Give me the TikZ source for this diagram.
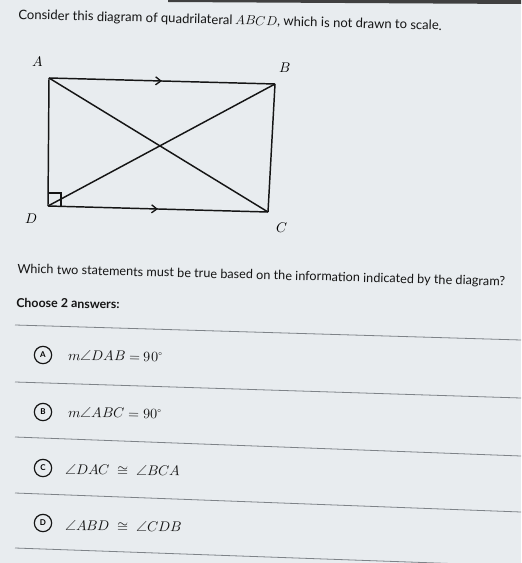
\documentclass[tikz,border=0pt]{standalone}
\usepackage{fontspec}
\usepackage{unicode-math}
\setmainfont{Lato}
\setmathfont{Latin Modern Math}
\usetikzlibrary{decorations.markings,arrows.meta}
\definecolor{bgc}{HTML}{E8ECEF}
\definecolor{sepc}{HTML}{7E8388}
\definecolor{inkc}{HTML}{151515}
\begin{document}
\begin{tikzpicture}[x=0.75pt,y=-0.75pt,
  edge/.style={draw=inkc,line width=1.1pt},
  midarrow/.style={postaction={decorate},decoration={markings,mark=at position 0.5 with {\arrow{Straight Barb[length=4pt,width=6pt,line width=1pt]}}}},
  vlabel/.style={font=\fontsize{10.5}{12}\selectfont,inner sep=0pt},
  sep/.style={draw=sepc,line width=0.6pt},
  qtext/.style={anchor=base west,inner sep=0pt,text=inkc,rotate=-1.5},
  optcircle/.style={circle,draw=inkc,line width=0.9pt,minimum size=13pt,inner sep=0pt,font=\fontsize{6}{7}\selectfont\bfseries},
  opttext/.style={anchor=base west,inner sep=0pt,text=inkc,rotate=-1,font=\fontsize{10.6}{12}\selectfont}]
\useasboundingbox (0,0) rectangle (521,563);
\fill[bgc] (0,0) rectangle (521,563);
\fill[black!75] (168,0) -- (521,0) -- (521,4) -- (168,2) -- cycle;
% title
\node[qtext,font=\fontsize{9.8}{11}\selectfont] (title) at (18,19) {Consider this diagram of quadrilateral $ABCD$, which is not drawn to scale.};
% quadrilateral
\coordinate (A) at (49,78);
\coordinate (B) at (275,84);
\coordinate (C) at (268,212);
\coordinate (D) at (48,206);
\draw[edge,midarrow] (A) -- (B);
\draw[edge,midarrow] (D) -- (C);
\draw[edge] (A) -- (D);
\draw[edge] (B) -- (C);
\draw[edge] (A) -- (C);
\draw[edge] (B) -- (D);
\draw[draw=inkc,line width=0.9pt] (48,193) -- (61,193) -- (61,206);
\node[vlabel] (lA) at (38,61) {$A$};
\node[vlabel] (lB) at (285,68) {$B$};
\node[vlabel] (lC) at (282,228) {$C$};
\node[vlabel] (lD) at (31,219) {$D$};
% question
\node[qtext,font=\fontsize{9.5}{11}\selectfont] (q) at (17,273) {Which two statements must be true based on the information indicated by the diagram?};
\node[qtext,font=\fontsize{9.3}{11}\selectfont\bfseries,rotate=0.5] (ch) at (16,307) {Choose 2 answers:};
% separators
\draw[sep] (15,325) -- (521,340);
\draw[sep] (15,382) -- (521,398);
\draw[sep] (15,437) -- (521,456);
\draw[sep] (15,493) -- (521,512);
\draw[sep] (15,548) -- (521,566);
% options
\node[optcircle] (oA) at (43,355) {A};
\node[opttext] (tA) at (68,360) {$m\angle DAB=90^\circ$};
\node[optcircle] (oB) at (43,412) {B};
\node[opttext] (tB) at (68,417) {$m\angle ABC=90^\circ$};
\node[optcircle] (oC) at (43,468) {C};
\node[opttext] (tC) at (65,474) {$\angle DAC\;\cong\;\angle BCA$};
\node[optcircle] (oD) at (43,523) {D};
\node[opttext] (tD) at (65,530) {$\angle ABD\;\cong\;\angle CDB$};
\end{tikzpicture}
\end{document}
